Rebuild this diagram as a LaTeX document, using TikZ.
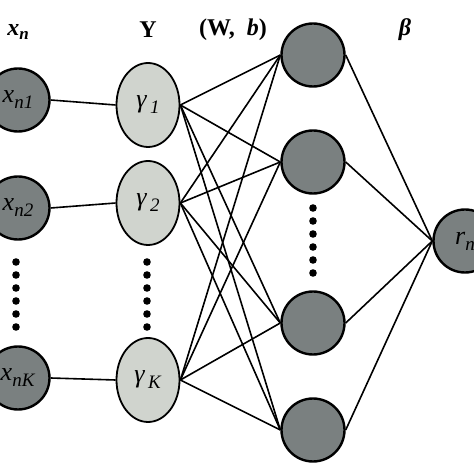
\documentclass[tikz,border=0pt]{standalone}
\usepackage{fontspec}
\setmainfont{Liberation Serif}
\usetikzlibrary{shapes.geometric}
\definecolor{darkfill}{RGB}{122,128,128}
\definecolor{lightfill}{RGB}{208,212,206}
\newcommand{\nodetxt}[2]{\fontsize{26}{26}\selectfont\textit{#1}\raisebox{-6pt}{\fontsize{19}{19}\selectfont\textit{#2}}}
\begin{document}
\begin{tikzpicture}[x=1pt,y=1pt,
  darknode/.style={circle,draw=black,line width=2.4pt,fill=darkfill,minimum size=63pt,inner sep=0pt},
  lightnode/.style={ellipse,draw=black,line width=1.8pt,fill=lightfill,minimum width=63pt,minimum height=84pt,inner sep=0pt},
  conn/.style={line width=1.6pt,black},
  toplabel/.style={font=\fontsize{24}{24}\selectfont\bfseries,inner sep=0pt},
  dot/.style={fill=black}]
\useasboundingbox (0,0) rectangle (474,474);
% labels
\node[toplabel] (lx) at (18,442) {\textit{x}\raisebox{-4pt}{\fontsize{17}{17}\selectfont\textit{n}}};
\node[toplabel] (lg) at (148,444) {Υ};
\node[toplabel] (lw) at (233,444) {(W,\enspace\textit{b})};
\node[toplabel] (lb) at (405,444) {\textit{β}};
% input nodes
\node[darknode] (x1) at (18,374) {\nodetxt{x}{n1}};
\node[darknode] (x2) at (18,266) {\nodetxt{x}{n2}};
\node[darknode] (xK) at (18,96) {\nodetxt{x}{nK}};
% gamma nodes
\node[lightnode] (g1) at (148,369) {\nodetxt{γ}{\,1}};
\node[lightnode] (g2) at (148,271) {\nodetxt{γ}{\,2}};
\node[lightnode] (gK) at (148,94) {\nodetxt{γ}{\,K}};
% hidden nodes
\node[darknode] (h1) at (313,419) {};
\node[darknode] (h2) at (313,312) {};
\node[darknode] (h3) at (313,151) {};
\node[darknode] (h4) at (313,44) {};
% output node
\node[darknode] (r) at (465,233) {\nodetxt{r}{n}};
% dots
\foreach \i in {0,...,5} {
  \fill[dot] (16,212-13*\i) circle (3.8);
  \fill[dot] (147,212-13*\i) circle (3.8);
  \fill[dot] (313,266-13*\i) circle (3.8);
}
% connectors
\draw[conn] (x1.east) -- (g1.west);
\draw[conn] (x2.east) -- (g2.west);
\draw[conn] (xK.east) -- (gK.west);
\foreach \g in {g1,g2,gK}
  \foreach \h in {h1,h2,h3,h4}
    \draw[conn] (\g.east) -- (\h.west);
\foreach \h in {h1,h2,h3,h4}
  \draw[conn] (\h.east) -- (r.west);
\end{tikzpicture}
\end{document}
